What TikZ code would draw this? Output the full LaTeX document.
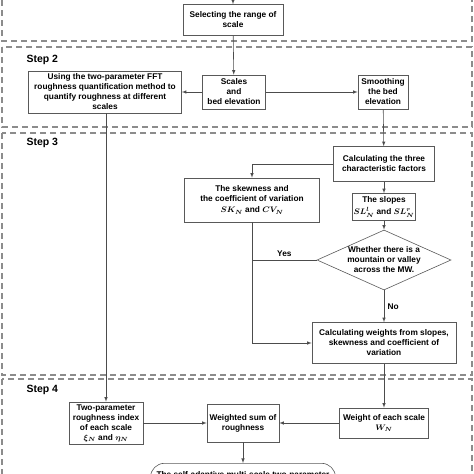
\documentclass[tikz,border=0pt]{standalone}
\usepackage{fontspec}
\setmainfont{Liberation Sans}
\usepackage{amsmath,bm}
\usetikzlibrary{shapes.geometric}

\tikzset{
		box/.style={draw=black!65, line width=0.6pt, align=center, font=\bfseries\fontsize{8.3}{10}\selectfont, inner sep=1pt},
		stepframe/.style={draw=black!45, line width=1.4pt, dash pattern=on 6pt off 4pt},
		steplabel/.style={font=\bfseries\fontsize{10.5}{12}\selectfont, anchor=west},
		arrow/.style={-latex, draw=black!70, line width=0.6pt},
		line/.style={draw=black!70, line width=0.6pt}
	}

\begin{document}
\begin{tikzpicture}[x=1pt,y=-1pt]
\useasboundingbox (0,0) rectangle (474,474);
\clip (0,0) rectangle (474,474);

% step frames
\draw [stepframe] (2,-10) rectangle (472,41);
\draw [stepframe] (2,47) rectangle (472,127);
\draw [stepframe] (2,133) rectangle (472,375);
\draw [stepframe] (2,379) rectangle (472,500);

\node (s2) at (23,60) [steplabel] {Step 2};
\node (s3) at (23,143) [steplabel] {Step 3};
\node (s4) at (23,390) [steplabel] {Step 4};

% step 1
\coordinate (top) at (233,0);
\node (range) at (233,20) [box,minimum width=100pt,minimum height=31pt] {Selecting the range of\\scale};

% step 2
\node (fft) at (105,92) [box,minimum width=153pt,minimum height=42pt] {Using the two-parameter FFT\\roughness quantification method to\\quantify roughness at different\\scales};
\node (scales) at (234,92) [box,minimum width=63pt,minimum height=34pt] {Scales\\and\\bed elevation};
\node (smooth) at (383,92) [box,minimum width=50pt,minimum height=34pt] {Smoothing\\the bed\\elevation};

% step 3
\node (factors) at (384,164) [box,minimum width=101pt,minimum height=35pt] {Calculating the three\\characteristic factors};
\node (skew) at (252,200) [box,minimum width=135pt,minimum height=44pt] {The skewness and\\the coefficient of variation\\[1pt]{\boldmath$SK_N$} and {\boldmath$CV_N$}};
\node (slopes) at (384,207) [box,minimum width=51pt,minimum height=27pt] {The slopes\\[2pt]{\boldmath$SL_N^l$} and {\boldmath$SL_N^r$}};
\node (mw) at (384,260) [box,diamond,aspect=2.25,minimum width=134pt,minimum height=60pt,inner sep=0pt] {Whether there is a\\mountain or valley\\across the MW.};
\node (weights) at (384,343) [box,minimum width=144pt,minimum height=41pt] {Calculating weights from slopes,\\skewness and coefficient of\\variation};

% step 4
\node (index) at (106,423) [box,minimum width=74pt,minimum height=42pt] {Two-parameter\\roughness index\\of each scale\\{\boldmath$\xi_N$} and {\boldmath$\eta_N$}};
\node (wsum) at (243,423) [box,minimum width=72pt,minimum height=38pt] {Weighted sum of\\roughness};
\node (wscale) at (384,423) [box,minimum width=89pt,minimum height=30pt] {Weight of each scale\\{\boldmath$W_N$}};
\node (result) at (243,463) [box,anchor=north,rounded corners=14pt,minimum width=185pt,minimum height=36pt,inner sep=4pt] {The self-adaptive multi-scale two-parameter\\ \strut};

% connectors
\draw [arrow] (top) -- (range);
\draw [arrow] (range) -- (scales);
\draw [arrow] (scales) -- (fft);
\draw [arrow] (scales) -- (smooth);
\draw [arrow] (smooth) -- (factors);
\draw [arrow] (factors.west) -| (skew.north);
\draw [arrow] (factors) -- (slopes);
\draw [arrow] (slopes) -- (mw);
\draw [line] (mw.west) -- node [above, font=\bfseries\fontsize{8.3}{9}\selectfont] {Yes} (skew.south |- mw.west);
\draw [arrow] (skew.south) |- (weights.west);
\draw [arrow] (mw.south) -- node [right, font=\bfseries\fontsize{8.3}{9}\selectfont] {No} (weights.north);
\draw [arrow] (weights) -- (wscale);
\draw [arrow] (fft.south -| index.north) -- (index.north);
\draw [arrow] (index) -- (wsum);
\draw [arrow] (wscale) -- (wsum);
\draw [arrow] (wsum) -- (result);

\end{tikzpicture}
\end{document}
